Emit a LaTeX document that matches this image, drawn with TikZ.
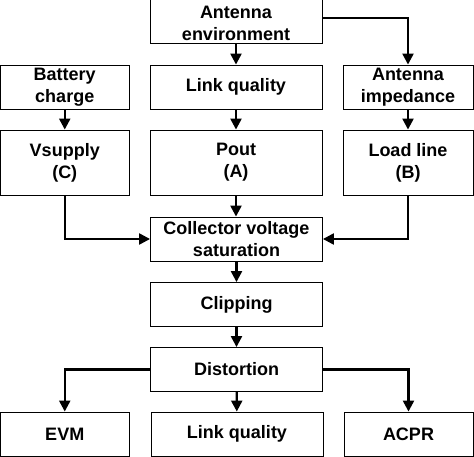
\documentclass[tikz,border=0pt]{standalone}
\usepackage{fontspec}
\setmainfont{Liberation Sans}
\usetikzlibrary{arrows.meta}
\tikzset{
  txt/.style={inner sep=0pt, align=center, font=\fontsize{18}{22}\selectfont\bfseries},
  box/.style={draw=black, line width=0.9pt, minimum width=#1, minimum height=44pt, txt},
  box/.default=172pt,
  conn/.style={line width=2.3pt, -{Triangle[length=11pt,width=11pt]}}
}
\begin{document}
\begin{tikzpicture}[x=1pt,y=-1pt]
\useasboundingbox (0,0) rectangle (474,457);
% top row
\node[box, minimum height=50pt] (env) at (236,18) {};
\node[txt] (envt) at (236,23) {Antenna\\environment};
\node[box=128.5pt] (bat) at (64.75,87) {Battery\\charge};
\node[box] (lq1) at (236,87) {Link quality};
\node[box=130pt] (imp) at (408,87) {Antenna\\impedance};
% second row
\node[box=128.5pt, minimum height=65pt] (vs) at (64.75,162.5) {Vsupply\\(C)};
\node[box, minimum height=65pt] (pout) at (236,162.5) {Pout\\(A)};
\node[box=130pt, minimum height=65pt] (ll) at (408,162.5) {Load line\\(B)};
% chain
\node[box] (col) at (236.5,239) {Collector voltage\\saturation};
\node[box] (clip) at (236.5,304.5) {Clipping};
\node[box] (dist) at (236.5,369.5) {Distortion};
% bottom row
\node[box=128.5pt] (evm) at (64.75,434) {EVM};
\node[box] (lq2) at (237,434) {Link quality};
\node[box=129pt] (acpr) at (408.5,434) {ACPR};
% connectors
\draw[conn] (env.south -| lq1.north) -- (lq1.north);
\draw[conn] (env.east) -| (imp.north);
\draw[conn] (bat) -- (vs);
\draw[conn] (lq1) -- (pout);
\draw[conn] (imp) -- (ll);
\draw[conn] (vs.south) |- (col.west);
\draw[conn] (pout.south) -- (col.north -| pout.south);
\draw[conn] (ll.south) |- (col.east);
\draw[conn] (col) -- (clip);
\draw[conn] (clip) -- (dist);
\draw[conn] (dist.west) -| (evm.north);
\draw[conn] (dist) -- (lq2);
\draw[conn] (dist.east) -| (acpr.north);
\end{tikzpicture}
\end{document}
